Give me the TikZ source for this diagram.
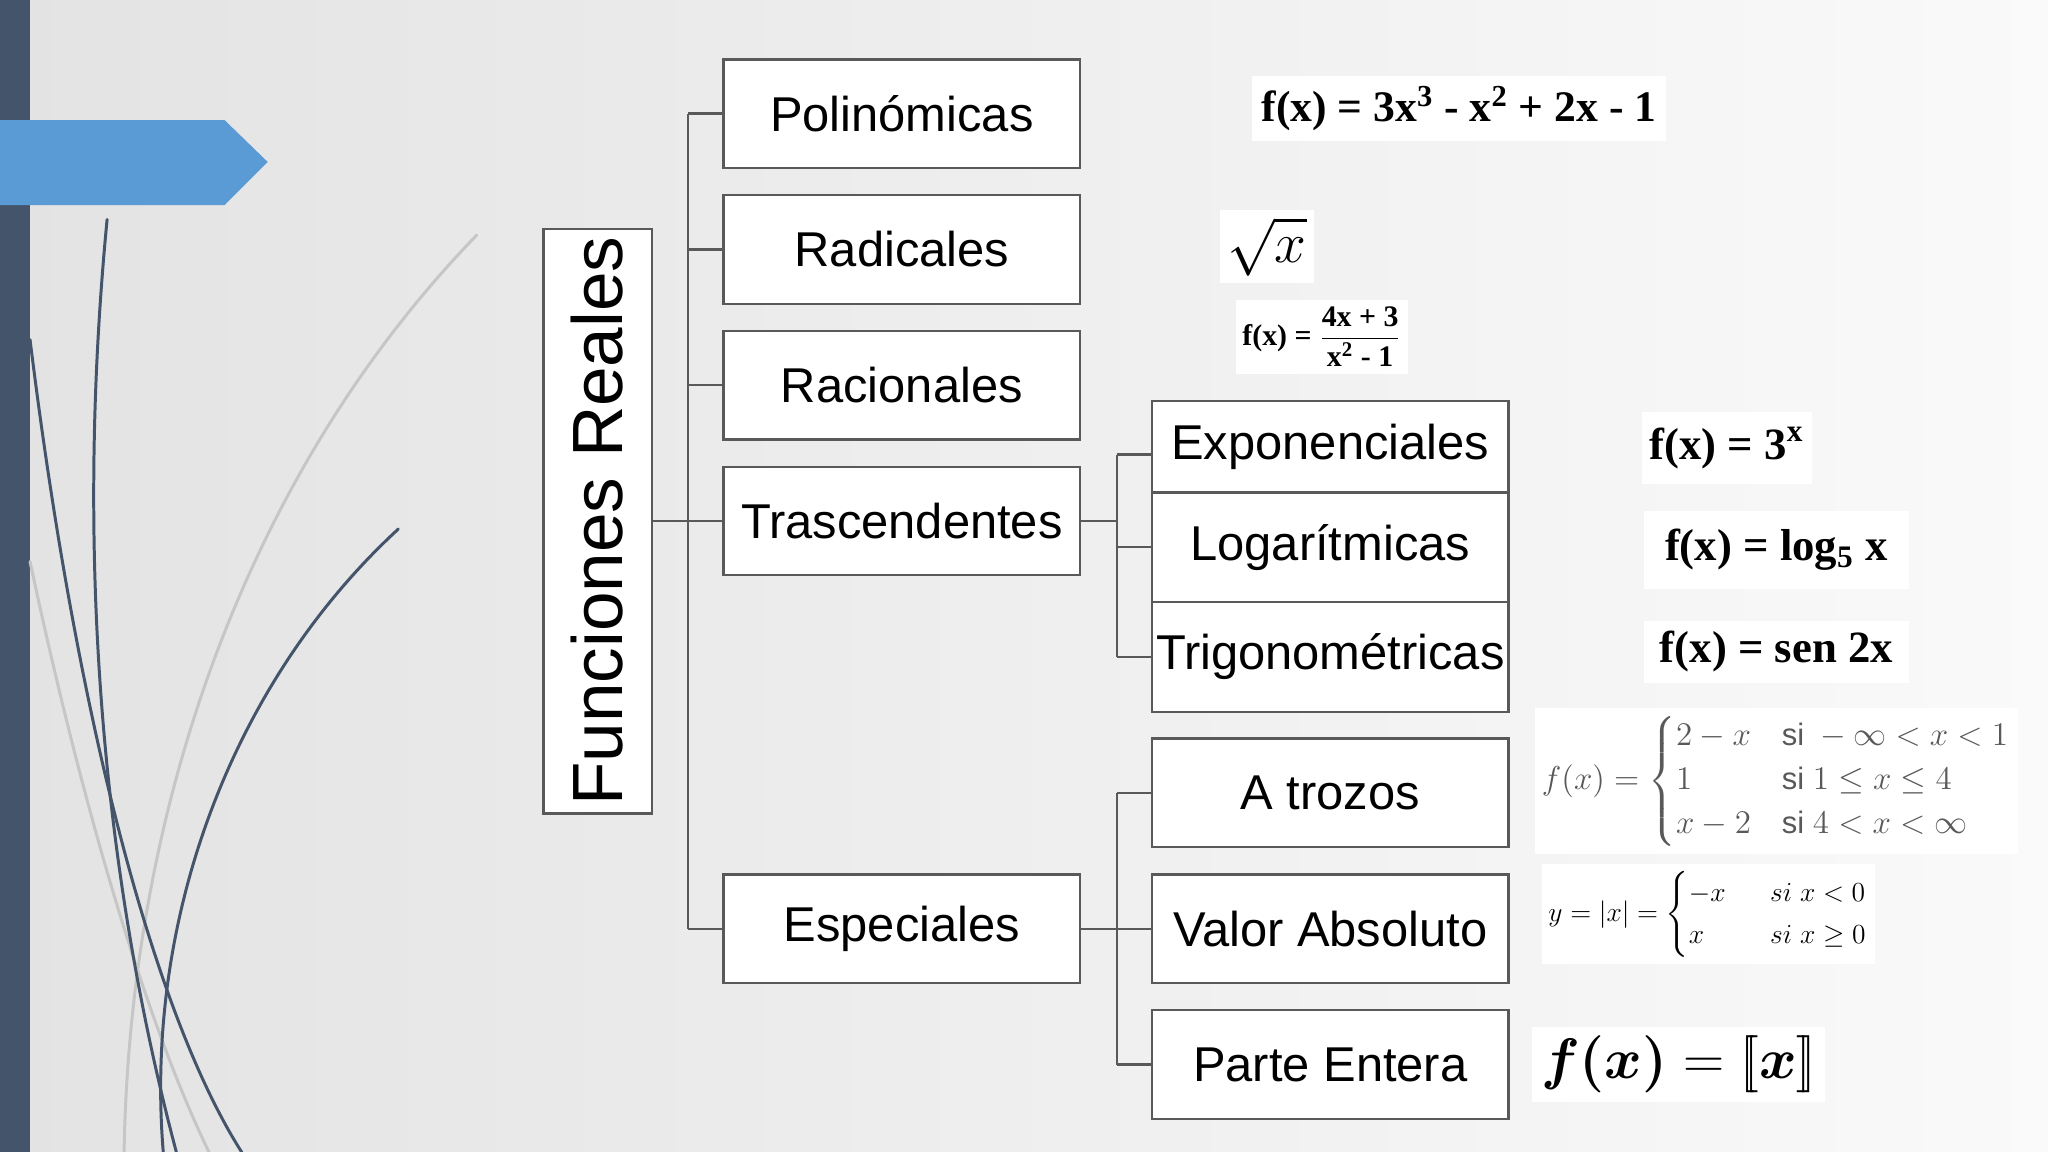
\documentclass[tikz,border=0pt]{standalone}
\usepackage{amsmath,amssymb}
\usepackage{fontspec}
\setmainfont{Liberation Sans}
\newfontfamily\ser{Liberation Serif}
\definecolor{slate}{HTML}{44546A}
\definecolor{sky}{HTML}{5B9BD5}
\tikzset{
 box/.style={draw=gray!70!black,line width=1pt,fill=white,minimum width=5.46cm,minimum height=1.66cm,inner sep=0pt,font=\fontsize{21.3}{25}\selectfont},
 box2/.style={box,minimum height=1.68cm},
 conn/.style={draw=gray!70!black,line width=1pt},
 fml/.style={fill=white,inner sep=3pt,font=\fontsize{19}{22}\selectfont\ser\bfseries},
 deco/.style={line width=1.3pt,line cap=round}
}
\begin{document}
\begin{tikzpicture}[x=0.02cm,y=-0.02cm]
\useasboundingbox (0,0) rectangle (1568,882);
\shade[left color=gray!22,right color=gray!4] (0,0) rectangle (1568,882);
\fill[slate] (0,0) rectangle (23,882);
\fill[sky] (0,92) -- (172,92) -- (205,124) -- (172,157) -- (0,157) -- cycle;
% decorative curves
\draw[deco,gray!45] (365,180) .. controls (200,350) and (100,600) .. (95,882);
\draw[deco,gray!45] (23,430) .. controls (70,650) and (120,800) .. (160,882);
\draw[deco,slate] (82,168) .. controls (50,500) and (100,750) .. (135,882);
\draw[deco,slate] (23,260) .. controls (60,560) and (120,780) .. (185,882);
\draw[deco,slate] (305,405) .. controls (180,520) and (110,700) .. (125,882);
% main box
\node[draw=gray!70!black,line width=1pt,fill=white,minimum width=8.76cm,minimum height=1.66cm,rotate=90,font=\fontsize{31}{36}\selectfont] (fr) at (457.5,399) {Funciones Reales};
% column 1
\node[box] (pol) at (690.5,87) {Polinómicas};
\node[box] (rad) at (690.5,191) {Radicales};
\node[box] (rac) at (690.5,295) {Racionales};
\node[box] (tra) at (690.5,399) {Trascendentes};
\node[box] (esp) at (690.5,711) {Especiales};
% column 2
\node[box,minimum height=1.4cm] (exp) at (1018.5,342) {\raisebox{-0.35em}{Exponenciales}};
\node[box2] (log) at (1018.5,419) {Logarítmicas};
\node[box2] (tri) at (1018.5,503) {Trigonométricas};
\node[box] (atr) at (1018.5,607) {A trozos};
\node[box] (val) at (1018.5,711) {Valor Absoluto};
\node[box] (par) at (1018.5,815) {Parte Entera};
% connectors
\coordinate (j1) at (527,399);
\draw[conn] (fr.south) -- (j1);
\foreach \n in {pol,rad,rac,tra,esp} \draw[conn] (j1 |- \n.west) -- (\n.west);
\draw[conn] (j1 |- pol.west) -- (j1 |- esp.west);
\coordinate (j2) at (855,399);
\draw[conn] (tra.east) -- (j2);
\draw[conn] (855,348) -- (855,503);
\foreach \n/\y in {exp/348,log/419,tri/503} \draw[conn] (855,\y) -- (882,\y);
\coordinate (j3) at (855,711);
\draw[conn] (esp.east) -- (j3);
\draw[conn] (855,607) -- (855,815);
\foreach \n in {atr,val,par} \draw[conn] (j3 |- \n.west) -- (\n.west);
% formulas
\node[fml,minimum width=6.34cm,minimum height=1cm] (f1) at (1117,83) {f(x) = 3x\textsuperscript{3} - x\textsuperscript{2} + 2x - 1};
\node[fill=white,inner sep=3pt,font=\fontsize{24}{28}\selectfont] (f2) at (970,189) {$\sqrt{x}$};
\node[fml,font=\fontsize{13}{16}\selectfont\ser\bfseries] (f3) at (1012,258) {f(x) = $\dfrac{\text{\ser\bfseries 4x + 3}}{\text{\ser\bfseries x\textsuperscript{2} - 1}}$};
\node[fml,font=\fontsize{19.5}{24}\selectfont\ser\bfseries,minimum width=2.6cm,minimum height=1.1cm] (f4) at (1322,343) {f(x) = 3\textsuperscript{x}};
\node[fml,font=\fontsize{19.5}{24}\selectfont\ser\bfseries,minimum width=4.06cm,minimum height=1.2cm] (f5) at (1360,421) {f(x) = log\textsubscript{5} x};
\node[fml,font=\fontsize{19.5}{24}\selectfont\ser\bfseries,minimum width=4.06cm,minimum height=0.95cm] (f6) at (1360,499) {f(x) = sen 2x};
\node[fill=white,inner sep=3pt,text=gray!70!black,font=\fontsize{13.5}{16}\selectfont] (f7) at (1360,598) {$f(x)=\begin{cases}2-x & \mathrm{si}\ -\infty<x<1\\ 1 & \mathrm{si}\ 1\le x\le 4\\ x-2 & \mathrm{si}\ 4<x<\infty\end{cases}$};
\node[fill=white,inner sep=3pt,font=\fontsize{12.5}{15}\selectfont] (f8) at (1308,700) {$y=|x|=\begin{cases}-x & \ \ si\ x<0\\ x & \ \ si\ x\ge 0\end{cases}$};
\node[fill=white,inner sep=4pt,font=\fontsize{28}{32}\selectfont] (f9) at (1285,815) {$\boldsymbol{f(x)}=[\![\boldsymbol{x}]\!]$};
\end{tikzpicture}
\end{document}
